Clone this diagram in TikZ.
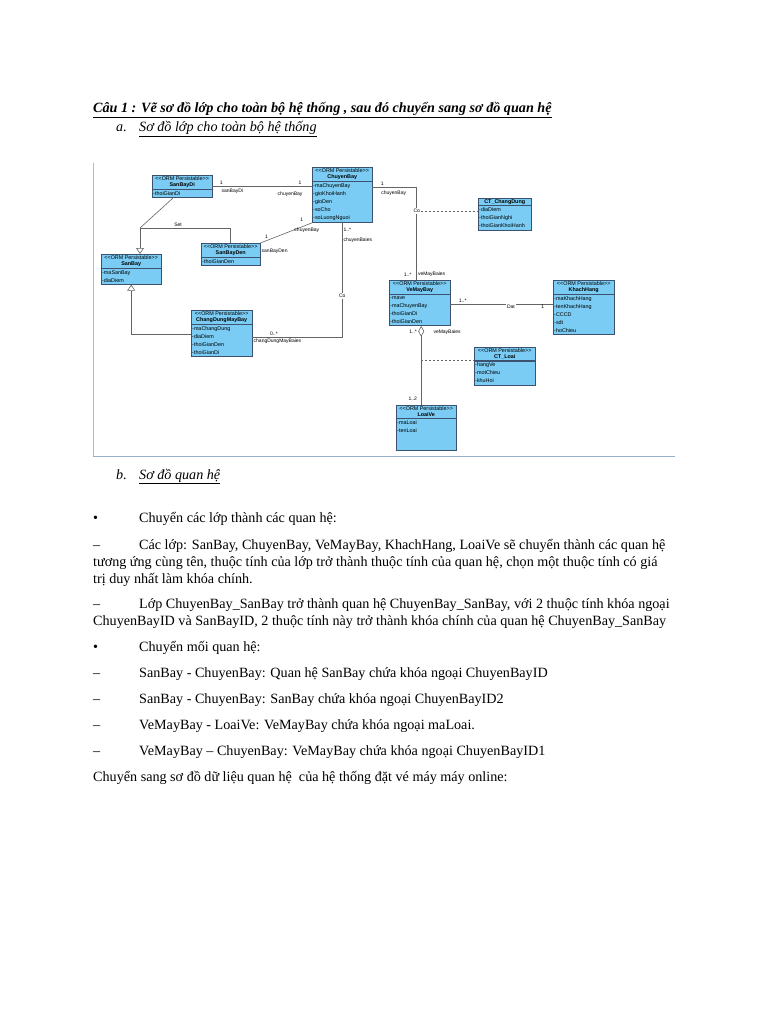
\documentclass[tikz,border=0pt]{standalone}
\usepackage{fontspec}
\setmainfont{Liberation Serif}
\newfontfamily\umlfont{Liberation Sans}
\usetikzlibrary{positioning,arrows.meta}

\definecolor{clsfill}{RGB}{122,204,244}
\definecolor{clsline}{RGB}{60,82,110}
\definecolor{wire}{RGB}{100,100,100}
\definecolor{framegray}{RGB}{185,185,185}
\definecolor{frameblue}{RGB}{150,176,202}

\newcommand\ormtag{<\kern0pt<ORM Persistable>\kern0pt>}

\tikzset{
  txt/.style={anchor=base west, inner sep=0pt, font=\fontsize{14.15}{17}\selectfont},
  hdr/.style={draw=clsline, fill=clsfill, anchor=north west, align=center, inner sep=1pt,
    font=\umlfont\fontsize{5.4}{6.6}\selectfont},
  attr/.style={draw=clsline, fill=clsfill, below=0pt of #1, align=left, inner xsep=1pt,
    inner ysep=2.2pt, font=\umlfont\fontsize{5.4}{8}\selectfont},
  assoc/.style={draw=wire, line width=0.6pt},
  gen/.style={assoc, -{Triangle[open, length=6pt, width=8pt]}},
  agg/.style={assoc, {Diamond[open, length=11pt, width=6pt]}-},
  dep/.style={assoc, dash pattern=on 2pt off 2pt},
  lbl/.style={font=\umlfont\fontsize{5}{6}\selectfont, inner sep=1pt}
}

\begin{document}
\begin{tikzpicture}[x=1pt,y=-1pt]
\useasboundingbox (0,0) rectangle (768,1024);
\fill[white] (0,0) rectangle (768,1024);

% headings
\node (cau) [txt] at (93,113) {\textbf{\textit{\underline{Câu 1 : Vẽ sơ đồ lớp cho toàn bộ hệ thống , sau đó chuyển sang sơ đồ quan hệ}}}};
\node (seca) [txt] at (116,132) {\textit{a.}};
\node (seca-t) [txt] at (139,132) {\textit{\underline{Sơ đồ lớp cho toàn bộ hệ thống}}};

% frame of the class diagram
\draw[framegray] (93.5,163) -- (93.5,456);
\draw[frameblue, line width=1.2pt] (93,456.5) -- (675,456.5);

% classes
\node (SanBayDi) [hdr, minimum width=60] at (152,175) {\ormtag\\\textbf{SanBayDi}};
\node (SanBayDi-b) [attr=SanBayDi, text width=58] {-thoiGianDi};

\node (ChuyenBay) [hdr, minimum width=60] at (312,167) {\ormtag\\\textbf{ChuyenBay}};
\node (ChuyenBay-b) [attr=ChuyenBay, text width=58] {-maChuyenBay\\-gioKhoiHanh\\-gioDen\\-soCho\\-soLuongNguoi};

\node (CT_ChangDung) [hdr, minimum width=53] at (478,198) {\textbf{CT\_ChangDung}};
\node (CT_ChangDung-b) [attr=CT_ChangDung, text width=51] {-diaDiem\\-thoiGianNghi\\-thoiGianKhoiHanh};

\node (SanBay) [hdr, minimum width=60] at (101,254) {\ormtag\\\textbf{SanBay}};
\node (SanBay-b) [attr=SanBay, text width=58] {-maSanBay\\-diaDiem};

\node (SanBayDen) [hdr, minimum width=59] at (201,243) {\ormtag\\\textbf{SanBayDen}};
\node (SanBayDen-b) [attr=SanBayDen, text width=57] {-thoiGianDen};

\node (ChangDungMayBay) [hdr, minimum width=61] at (191,310) {\ormtag\\\textbf{ChangDungMayBay}};
\node (ChangDungMayBay-b) [attr=ChangDungMayBay, text width=59] {-maChangDung\\-diaDiem\\-thoiGianDen\\-thoiGianDi};

\node (VeMayBay) [hdr, minimum width=61] at (389,280) {\ormtag\\\textbf{VeMayBay}};
\node (VeMayBay-b) [attr=VeMayBay, text width=59] {-mave\\-maChuyenBay\\-thoiGianDi\\-thoiGianDen};

\node (KhachHang) [hdr, minimum width=61] at (553,280) {\ormtag\\\textbf{KhachHang}};
\node (KhachHang-b) [attr=KhachHang, text width=59] {-maKhachHang\\-tenKhachHang\\-CCCD\\-sdt\\-hoChieu};

\node (CT_Loai) [hdr, minimum width=61] at (474,347) {\ormtag\\\textbf{CT\_Loai}};
\node (CT_Loai-b) [attr=CT_Loai, text width=59] {-hangVe\\-motChieu\\-khuHoi};

\node (LoaiVe) [hdr, minimum width=60] at (396,405) {\ormtag\\\textbf{LoaiVe}};
\node (LoaiVe-b) [attr=LoaiVe, text width=58] {-maLoai\\-tenLoai\\~\\~};

% SanBayDi - ChuyenBay
\draw[assoc] ([yshift=3pt]SanBayDi.south east) -- ([yshift=3pt]SanBayDi.south east -| ChuyenBay-b.west)
  node[lbl, pos=0.09, above] {1}
  node[lbl, pos=0.2, below=2pt] {sanBayDi}
  node[lbl, pos=0.88, above] {1}
  node[lbl, pos=0.78, below=5pt] {chuyenBay};

% SanBayDen - ChuyenBay
\draw[assoc] (SanBayDen.north east) -- (ChuyenBay-b.south west)
  node[lbl, pos=0.12, above=1pt] {1}
  node[lbl, pos=0, anchor=north west, yshift=-5pt] {sanBayDen}
  node[lbl, pos=0.8, above=4pt] {1}
  node[lbl, pos=0.9, below=2pt] {chuyenBay};

% SanBayDi, SanBayDen -> SanBay
\coordinate (setjoin) at (140,228);
\draw[assoc] ([xshift=-9pt]SanBayDi-b.south) -- (setjoin);
\draw[gen] (setjoin) -- (setjoin |- SanBay.north);
\draw[assoc] (SanBayDen.north) |- (setjoin) node[lbl, pos=0.79, above] {Set};

% ChangDungMayBay -> SanBay
\draw[gen] ([yshift=-10pt]ChangDungMayBay-b.north west) -| (SanBay-b.south);

% ChangDungMayBay - ChuyenBay
\draw[assoc] ([yshift=-13pt]ChangDungMayBay-b.north east) -| (ChuyenBay-b.south)
  node[lbl, pos=0.12, above] {0..*}
  node[lbl, pos=0, anchor=north west, yshift=-1pt] {changDungMayBaies}
  node[lbl, pos=0.68, fill=white] {Co}
  node[lbl, pos=0.97, right] {1..*}
  node[lbl, pos=0.925, right] {chuyenBaies};

% ChuyenBay - VeMayBay
\draw[assoc] ([yshift=-6pt]ChuyenBay-b.north east) -| ([xshift=-3pt]VeMayBay.north)
  node[lbl, pos=0.11, above] {1}
  node[lbl, pos=0.24, below=3pt] {chuyenBay}
  node (co1) [lbl, pos=0.63, fill=white] {Co}
  node[lbl, pos=0.97, left=4pt] {1..*}
  node[lbl, pos=0.97, right] {veMayBaies};
\draw[dep] (co1.east) -- (co1.east -| CT_ChangDung-b.west);

% VeMayBay - KhachHang
\draw[assoc] ([yshift=-10pt]VeMayBay-b.north east) -- ([yshift=-10pt]VeMayBay-b.north east -| KhachHang-b.west)
  node[lbl, pos=0.12, above] {1..*}
  node[lbl, pos=0.59, fill=white, inner ysep=3pt, yshift=-3pt] {Dat}
  node[lbl, pos=0.9, below] {1};

% VeMayBay - LoaiVe
\draw[agg] ([xshift=1.5pt]VeMayBay-b.south) -- ([xshift=1.5pt]VeMayBay-b.south |- LoaiVe.north)
  coordinate[pos=0.43] (loaijoin)
  node[lbl, pos=0.08, left=3pt] {1..*}
  node[lbl, pos=0.08, right=11pt] {veMayBaies}
  node[lbl, pos=0.92, left=3pt] {1..2};
\draw[dep] (loaijoin) -- (loaijoin -| CT_Loai-b.west);

% part b
\node (secb) [txt] at (116,479) {\textit{b.}};
\node (secb-t) [txt] at (139,479) {\textit{\underline{Sơ đồ quan hệ}}};

\node (bul1) [txt] at (93,522) {\textbullet};
\node (bul1-t) [txt] at (139,522) {Chuyển các lớp thành các quan hệ:};

\node (dash1) [txt] at (93,549) {–};
\node (dash1-l1) [txt] at (139,549) {Các lớp: SanBay, ChuyenBay, VeMayBay, KhachHang, LoaiVe sẽ chuyển thành các quan hệ};
\node (dash1-l2) [txt] at (93,566) {tương ứng cùng tên, thuộc tính của lớp trở thành thuộc tính của quan hệ, chọn một thuộc tính có giá};
\node (dash1-l3) [txt] at (93,583) {trị duy nhất làm khóa chính.};

\node (dash2) [txt] at (93,608) {–};
\node (dash2-l1) [txt] at (139,608) {Lớp ChuyenBay\_SanBay trở thành quan hệ ChuyenBay\_SanBay, với 2 thuộc tính khóa ngoại};
\node (dash2-l2) [txt] at (93,625) {ChuyenBayID và SanBayID, 2 thuộc tính này trở thành khóa chính của quan hệ ChuyenBay\_SanBay};

\node (bul2) [txt] at (93,651) {\textbullet};
\node (bul2-t) [txt] at (139,651) {Chuyển mối quan hệ:};

\node (dash3) [txt] at (93,677) {–};
\node (dash3-t) [txt] at (139,677) {SanBay - ChuyenBay: Quan hệ SanBay chứa khóa ngoại ChuyenBayID};
\node (dash4) [txt] at (93,703) {–};
\node (dash4-t) [txt] at (139,703) {SanBay - ChuyenBay: SanBay chứa khóa ngoại ChuyenBayID2};
\node (dash5) [txt] at (93,729) {–};
\node (dash5-t) [txt] at (139,729) {VeMayBay - LoaiVe: VeMayBay chứa khóa ngoại maLoai.};
\node (dash6) [txt] at (93,755) {–};
\node (dash6-t) [txt] at (139,755) {VeMayBay – ChuyenBay: VeMayBay chứa khóa ngoại ChuyenBayID1};

\node (last) [txt] at (93,781) {Chuyển sang sơ đồ dữ liệu quan hệ\ \ của hệ thống đặt vé máy máy online:};
\end{tikzpicture}
\end{document}
